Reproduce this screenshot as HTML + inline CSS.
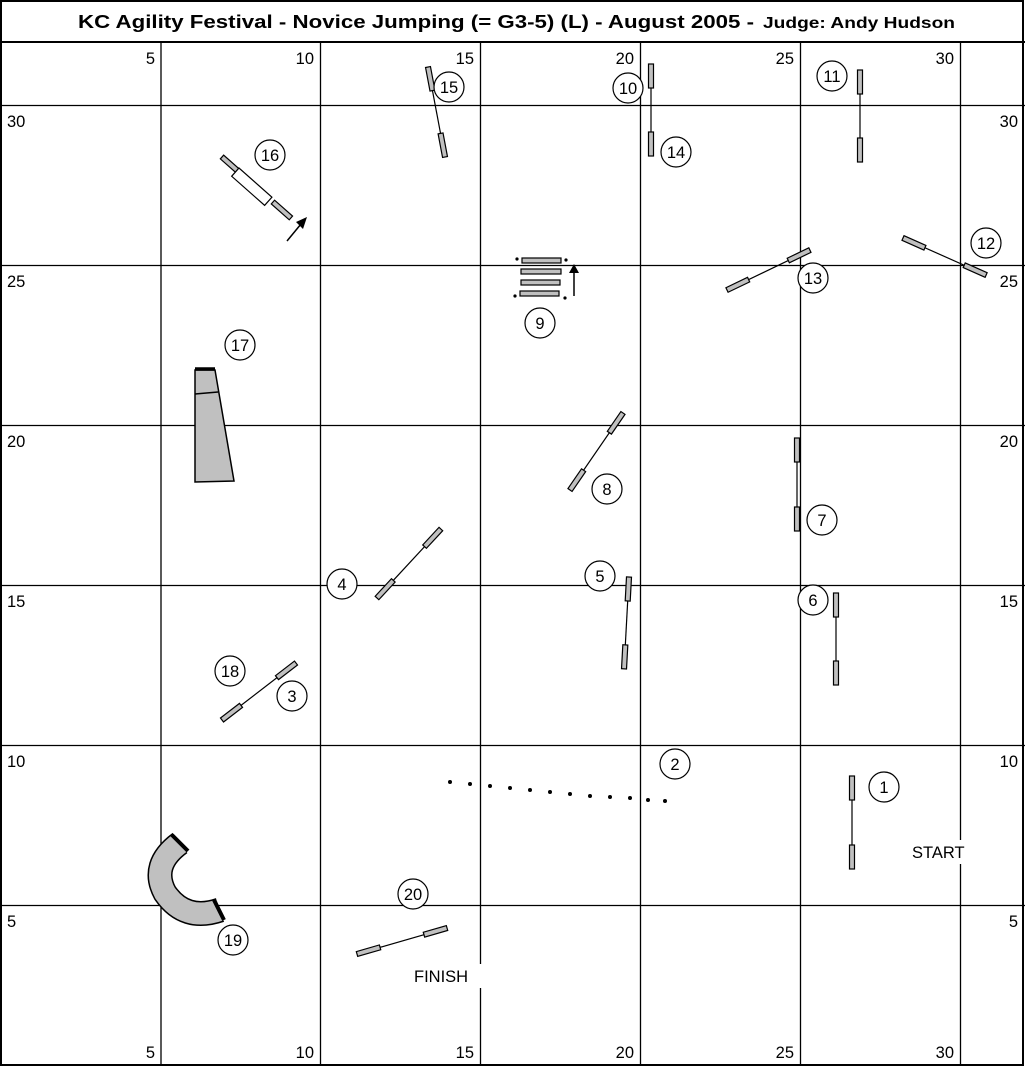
<!DOCTYPE html>
<html><head><meta charset="utf-8"><style>
html,body{margin:0;padding:0;background:#fff;}
svg{display:block;font-family:"Liberation Sans",Arial,sans-serif;}
</style></head><body>
<svg width="1025" height="1067" viewBox="0 0 1025 1067" xmlns="http://www.w3.org/2000/svg">
<rect x="0" y="0" width="1025" height="1067" fill="#fff"/>
<rect x="1" y="1" width="1022" height="1064" fill="none" stroke="#000" stroke-width="2"/>
<line x1="0" y1="42" x2="1025" y2="42" stroke="#000" stroke-width="2"/>
<text x="78" y="28" font-size="18" font-weight="bold" textLength="676" lengthAdjust="spacingAndGlyphs">KC Agility Festival - Novice Jumping (= G3-5) (L) - August 2005 -</text>
<text x="763" y="28" font-size="16" font-weight="bold" textLength="192" lengthAdjust="spacingAndGlyphs">Judge: Andy Hudson</text>
<g stroke="#000" stroke-width="1.3">
<line x1="161" y1="42" x2="161" y2="1066"/><line x1="320.5" y1="42" x2="320.5" y2="1066"/>
<line x1="480.5" y1="42" x2="480.5" y2="1066"/><line x1="640.5" y1="42" x2="640.5" y2="1066"/>
<line x1="800.5" y1="42" x2="800.5" y2="1066"/><line x1="960.5" y1="42" x2="960.5" y2="1066"/>
<line x1="0" y1="105.5" x2="1025" y2="105.5"/><line x1="0" y1="265.5" x2="1025" y2="265.5"/>
<line x1="0" y1="425.5" x2="1025" y2="425.5"/><line x1="0" y1="585.5" x2="1025" y2="585.5"/>
<line x1="0" y1="745.5" x2="1025" y2="745.5"/><line x1="0" y1="905.5" x2="1025" y2="905.5"/>
</g>
<rect x="910" y="840" width="66" height="24" fill="#fff"/>
<rect x="412" y="964" width="70" height="24" fill="#fff"/>
<g font-size="16.5" fill="#000">
<g text-anchor="end">
<text x="155" y="64">5</text><text x="314" y="64">10</text><text x="474" y="64">15</text><text x="634" y="64">20</text><text x="794" y="64">25</text><text x="954" y="64">30</text>
<text x="155" y="1058">5</text><text x="314" y="1058">10</text><text x="474" y="1058">15</text><text x="634" y="1058">20</text><text x="794" y="1058">25</text><text x="954" y="1058">30</text>
<text x="1018" y="127">30</text><text x="1018" y="287">25</text><text x="1018" y="447">20</text><text x="1018" y="607">15</text><text x="1018" y="767">10</text><text x="1018" y="927">5</text>
</g>
<text x="7" y="127">30</text><text x="7" y="287">25</text><text x="7" y="447">20</text><text x="7" y="607">15</text><text x="7" y="767">10</text><text x="7" y="927">5</text>
<text x="912" y="858">START</text>
<text x="414" y="982">FINISH</text>
</g>
<g stroke="#000" stroke-width="1.2" fill="#c0c0c0">
<g transform="translate(428,67) rotate(79.3)"><line x1="0" y1="0" x2="91.6" y2="0"/><rect x="0" y="-2.5" width="24" height="5"/><rect x="67.6" y="-2.5" width="24" height="5"/></g>
<g transform="translate(651,64) rotate(90)"><line x1="0" y1="0" x2="92" y2="0"/><rect x="0" y="-2.5" width="24" height="5"/><rect x="68" y="-2.5" width="24" height="5"/></g>
<g transform="translate(860,70) rotate(90)"><line x1="0" y1="0" x2="92" y2="0"/><rect x="0" y="-2.5" width="24" height="5"/><rect x="68" y="-2.5" width="24" height="5"/></g>
<g transform="translate(727,290) rotate(-25.7)"><line x1="0" y1="0" x2="92" y2="0"/><rect x="0" y="-2.5" width="24" height="5"/><rect x="68" y="-2.5" width="24" height="5"/></g>
<g transform="translate(903,238) rotate(24)"><line x1="0" y1="0" x2="91" y2="0"/><rect x="0" y="-2.5" width="24" height="5"/><rect x="67" y="-2.5" width="24" height="5"/></g>
<g transform="translate(570,490) rotate(-55.5)"><line x1="0" y1="0" x2="93.5" y2="0"/><rect x="0" y="-2.5" width="24" height="5"/><rect x="69.5" y="-2.5" width="24" height="5"/></g>
<g transform="translate(797,438) rotate(90)"><line x1="0" y1="0" x2="93" y2="0"/><rect x="0" y="-2.5" width="24" height="5"/><rect x="69" y="-2.5" width="24" height="5"/></g>
<g transform="translate(377,598) rotate(-47.2)"><line x1="0" y1="0" x2="94" y2="0"/><rect x="0" y="-2.5" width="24" height="5"/><rect x="70" y="-2.5" width="24" height="5"/></g>
<g transform="translate(629,577) rotate(93.1)"><line x1="0" y1="0" x2="92" y2="0"/><rect x="0" y="-2.5" width="24" height="5"/><rect x="68" y="-2.5" width="24" height="5"/></g>
<g transform="translate(836,593) rotate(90)"><line x1="0" y1="0" x2="92" y2="0"/><rect x="0" y="-2.5" width="24" height="5"/><rect x="68" y="-2.5" width="24" height="5"/></g>
<g transform="translate(222,720) rotate(-37.6)"><line x1="0" y1="0" x2="93.4" y2="0"/><rect x="0" y="-2.5" width="24" height="5"/><rect x="69.4" y="-2.5" width="24" height="5"/></g>
<g transform="translate(852,776) rotate(90)"><line x1="0" y1="0" x2="93" y2="0"/><rect x="0" y="-2.5" width="24" height="5"/><rect x="69" y="-2.5" width="24" height="5"/></g>
<g transform="translate(357,954) rotate(-16.1)"><line x1="0" y1="0" x2="93.7" y2="0"/><rect x="0" y="-2.5" width="24" height="5"/><rect x="69.7" y="-2.5" width="24" height="5"/></g>
<g transform="translate(222,157) rotate(41.5)"><rect x="0" y="-2.5" width="24" height="5"/><rect x="68" y="-2.5" width="24" height="5"/><rect x="20" y="-3" width="44" height="11" fill="#fff"/></g>
</g>
<g stroke="#000" stroke-width="1.5">
<line x1="287" y1="241" x2="301" y2="224"/>
<line x1="574" y1="296" x2="574" y2="272"/>
</g>
<polygon points="307,217 296,222 303,229" fill="#000"/>
<polygon points="574,264 569,273 579,273" fill="#000"/>
<g stroke="#000" stroke-width="1.2" fill="#c0c0c0">
<rect x="522" y="258" width="39" height="5"/><rect x="521" y="269" width="40" height="5"/>
<rect x="521" y="280" width="39" height="5"/><rect x="520" y="291" width="39" height="5"/>
</g>
<g fill="#000"><circle cx="517" cy="259" r="1.6"/><circle cx="566" cy="260" r="1.6"/><circle cx="515" cy="296" r="1.6"/><circle cx="565" cy="298" r="1.6"/></g>
<polygon points="195,370 215,370 234,481 195,482" fill="#c0c0c0" stroke="#000" stroke-width="1.5"/>
<line x1="195" y1="394" x2="218" y2="392" stroke="#000" stroke-width="1.5"/>
<line x1="195" y1="369" x2="215" y2="369" stroke="#000" stroke-width="3.5"/>
<path d="M180,843 Q150,865 165,893 Q185,922 220,910" fill="none" stroke="#000" stroke-width="25"/>
<path d="M180,843 Q150,865 165,893 Q185,922 220,910" fill="none" stroke="#c0c0c0" stroke-width="22"/>
<line x1="172" y1="835" x2="188" y2="851" stroke="#000" stroke-width="4"/>
<line x1="214" y1="900" x2="224" y2="920" stroke="#000" stroke-width="4"/>
<g fill="#000">
<circle cx="450" cy="782" r="2"/><circle cx="470" cy="784" r="2"/><circle cx="490" cy="786" r="2"/><circle cx="510" cy="788" r="2"/><circle cx="530" cy="790" r="2"/><circle cx="550" cy="792" r="2"/><circle cx="570" cy="794" r="2"/><circle cx="590" cy="796" r="2"/><circle cx="610" cy="797" r="2"/><circle cx="630" cy="798" r="2"/><circle cx="648" cy="800" r="2"/><circle cx="665" cy="801" r="2"/>
</g>
<g fill="#fff" stroke="#000" stroke-width="1.2">
<circle cx="270" cy="155" r="15"/><circle cx="449" cy="87" r="15"/><circle cx="628" cy="88" r="15"/><circle cx="676" cy="152" r="15"/><circle cx="832" cy="76" r="15"/><circle cx="986" cy="243" r="15"/><circle cx="813" cy="278" r="15"/><circle cx="540" cy="323" r="15"/><circle cx="240" cy="345" r="15"/><circle cx="607" cy="489" r="15"/><circle cx="822" cy="520" r="15"/><circle cx="342" cy="584" r="15"/><circle cx="600" cy="576" r="15"/><circle cx="813" cy="600" r="15"/><circle cx="230" cy="671" r="15"/><circle cx="292" cy="696" r="15"/><circle cx="675" cy="764" r="15"/><circle cx="884" cy="787" r="15"/><circle cx="413" cy="894" r="15"/><circle cx="233" cy="940" r="15"/>
</g>
<g font-size="16.5" text-anchor="middle" fill="#000">
<text x="270" y="161">16</text><text x="449" y="93">15</text><text x="628" y="94">10</text><text x="676" y="158">14</text><text x="832" y="82">11</text><text x="986" y="249">12</text><text x="813" y="284">13</text><text x="540" y="329">9</text><text x="240" y="351">17</text><text x="607" y="495">8</text><text x="822" y="526">7</text><text x="342" y="590">4</text><text x="600" y="582">5</text><text x="813" y="606">6</text><text x="230" y="677">18</text><text x="292" y="702">3</text><text x="675" y="770">2</text><text x="884" y="793">1</text><text x="413" y="900">20</text><text x="233" y="946">19</text>
</g>
</svg>
</body></html>
